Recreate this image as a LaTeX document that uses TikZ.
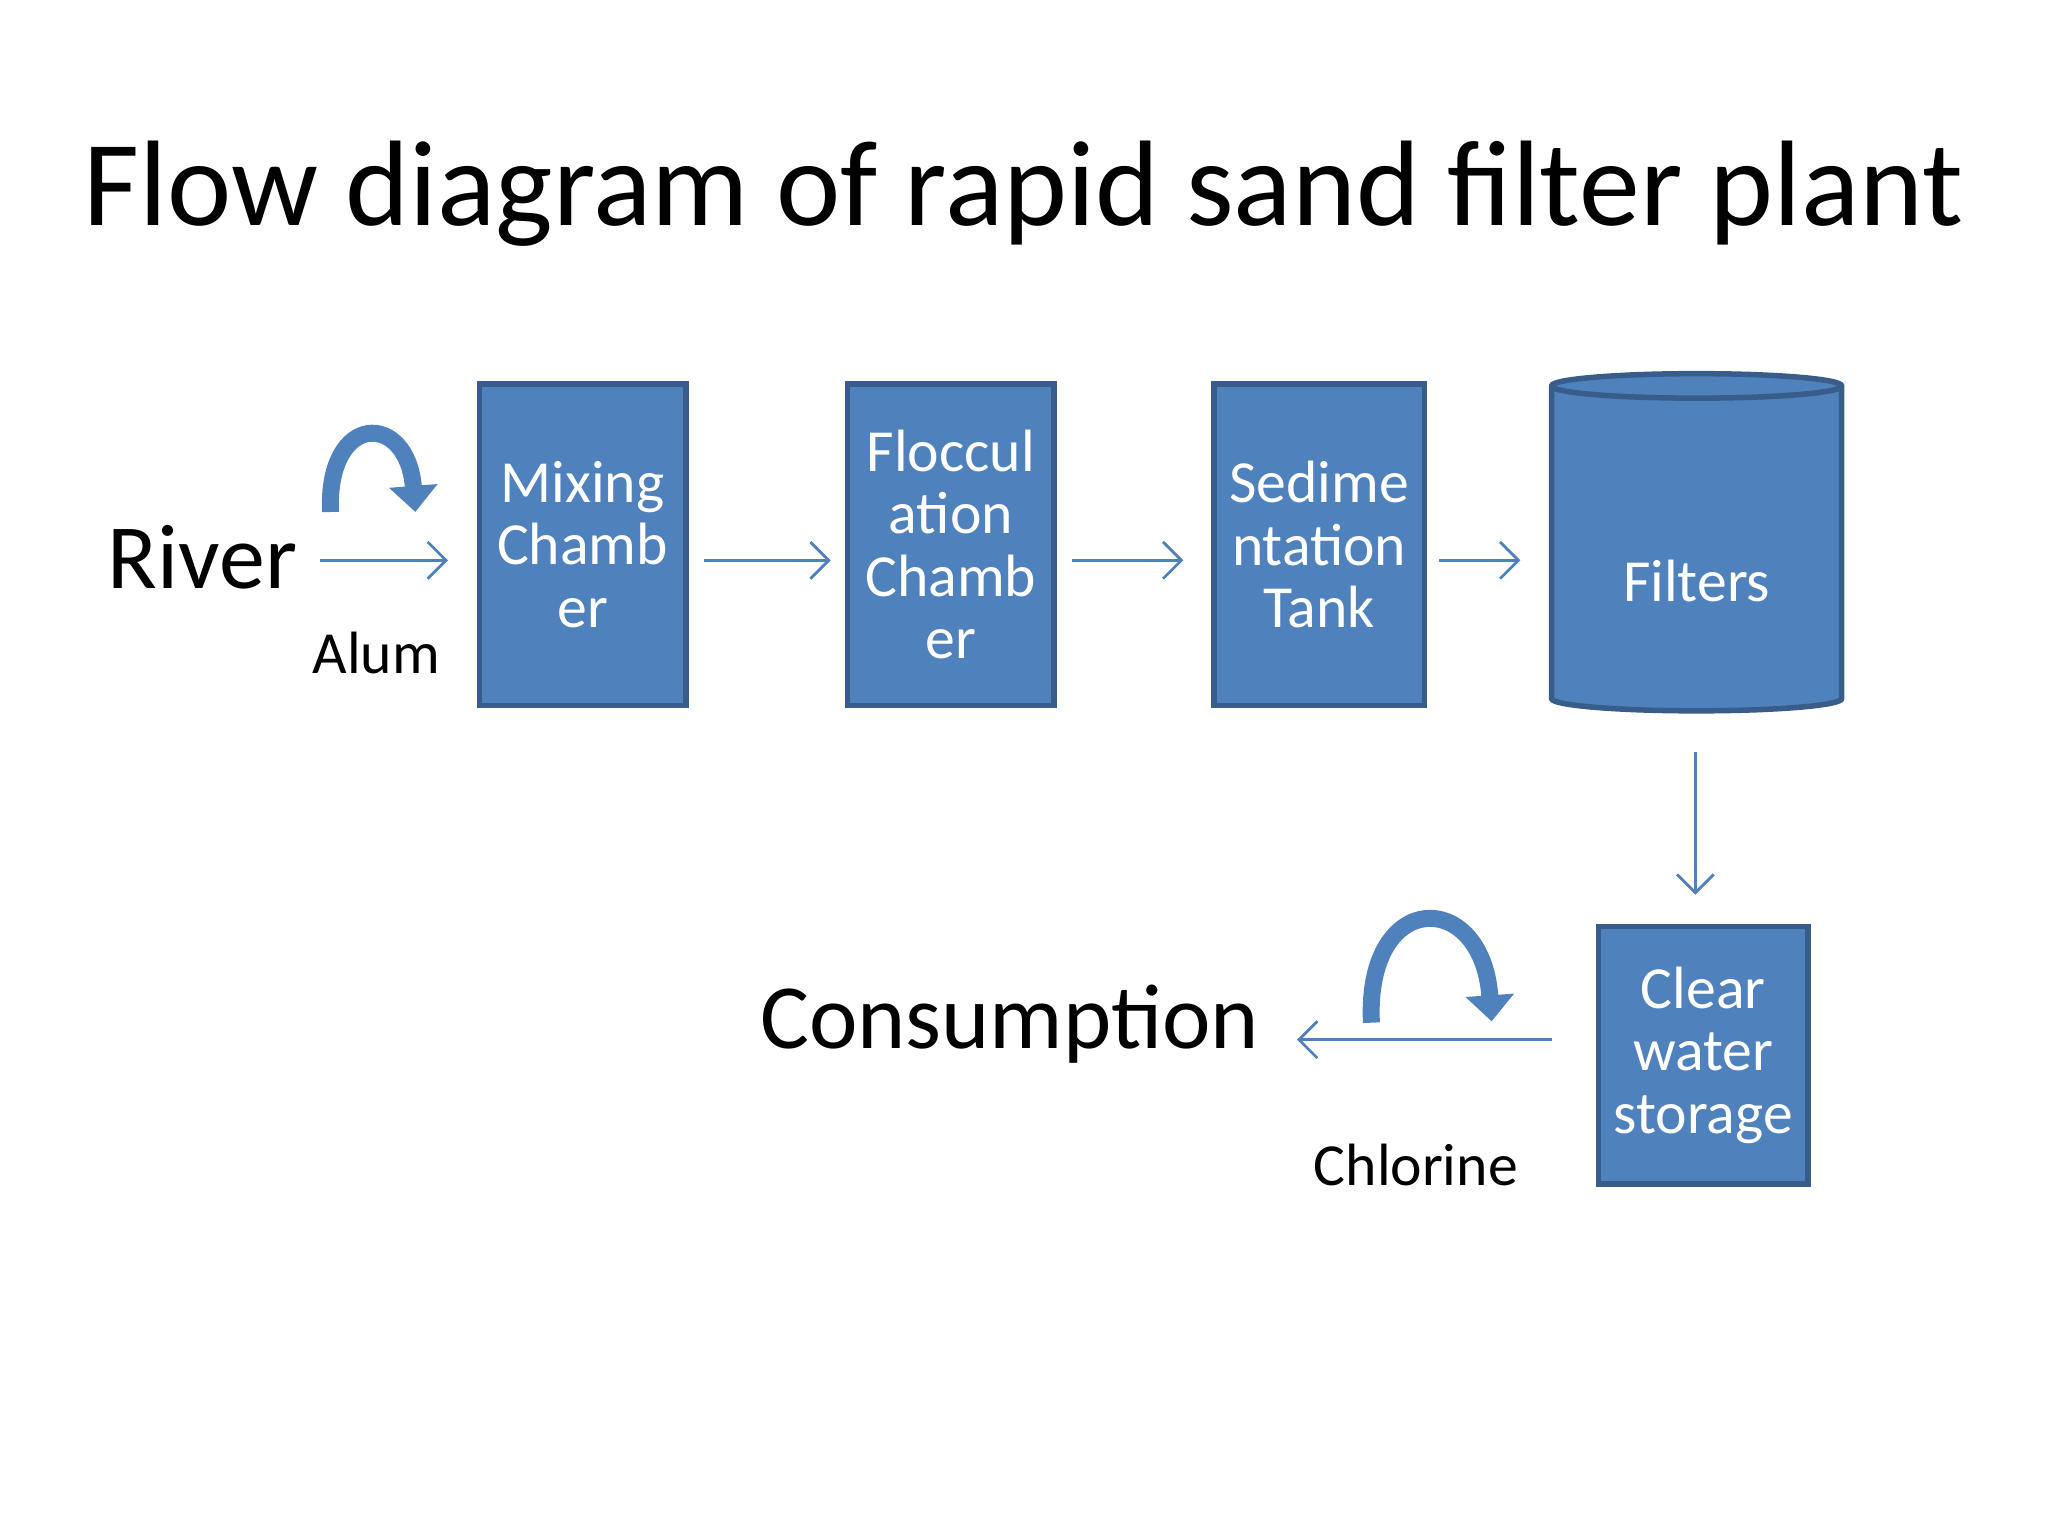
\documentclass[tikz,border=0pt]{standalone}
\usepackage{fontspec}
\setmainfont{Carlito}
\usetikzlibrary{shapes.geometric,arrows.meta}
\definecolor{boxblue}{HTML}{4F81BD}
\definecolor{edgeblue}{HTML}{385D8A}
\begin{document}
\begin{tikzpicture}[x=0.01cm,y=-0.01cm,
  stage/.style={draw=edgeblue,line width=1.2pt,fill=boxblue,text=white,
    minimum width=1.58cm,align=center,font=\fontsize{13}{13.6}\selectfont},
  flow/.style={draw=boxblue,line width=0.6pt,-{Straight Barb[length=4pt,width=8pt]}},
  curl/.style={draw=boxblue,line width=0.13cm,-{Triangle[length=0.2cm,width=0.36cm]}},
  label/.style={font=\fontsize{20}{20}\selectfont}]
  \useasboundingbox (0,0) rectangle (1568,1176);
  \node[font=\fontsize{26.5}{26.5}\selectfont] (title) at (784,148) {Flow diagram of rapid sand filter plant};
  % stages
  \node[stage,minimum height=2.46cm] (mix) at (446,417) {Mixing\\Chamb\\er};
  \node[stage,minimum height=2.46cm] (floc) at (728,417) {Floccul\\ation\\Chamb\\er};
  \node[stage,minimum height=2.46cm] (sed) at (1010,417) {Sedime\\ntation\\Tank};
  \node[stage,shape=cylinder,shape border rotate=90,aspect=0.8,
    minimum width=2.22cm,minimum height=2.58cm] (filt) at (1299,423) {};
  \node[text=white,font=\fontsize{13}{13.6}\selectfont] at (1299,445) {Filters};
  \node[stage,minimum height=1.97cm] (clear) at (1304,808) {Clear\\water\\storage};
  % ends
  \node[label,anchor=east] (river) at (240,427) {River};
  \node[label] (cons) at (773,784) {Consumption};
  \node[font=\fontsize{13}{13}\selectfont] (alum) at (288,500) {Alum};
  \node[font=\fontsize{13}{13}\selectfont] (chlor) at (1084,892) {Chlorine};
  % flow
  \coordinate (r1) at (245,429); \coordinate (r2) at (343,429);
  \draw[flow] (r1) -- (r2);
  \draw[flow] (539,429) -- (636,429);
  \draw[flow] (821,429) -- (906,429);
  \draw[flow] (1102,429) -- (1164,429);
  \draw[flow] (1298,576) -- (1298,685);
  \draw[flow] (1188,796) -- (993,796);
  % dosing
  \draw[curl] (253,392) .. controls (250,315) and (312,315) .. (318,392);
  \draw[curl] (1050,783) .. controls (1045,680) and (1135,680) .. (1142,782);
\end{tikzpicture}
\end{document}
